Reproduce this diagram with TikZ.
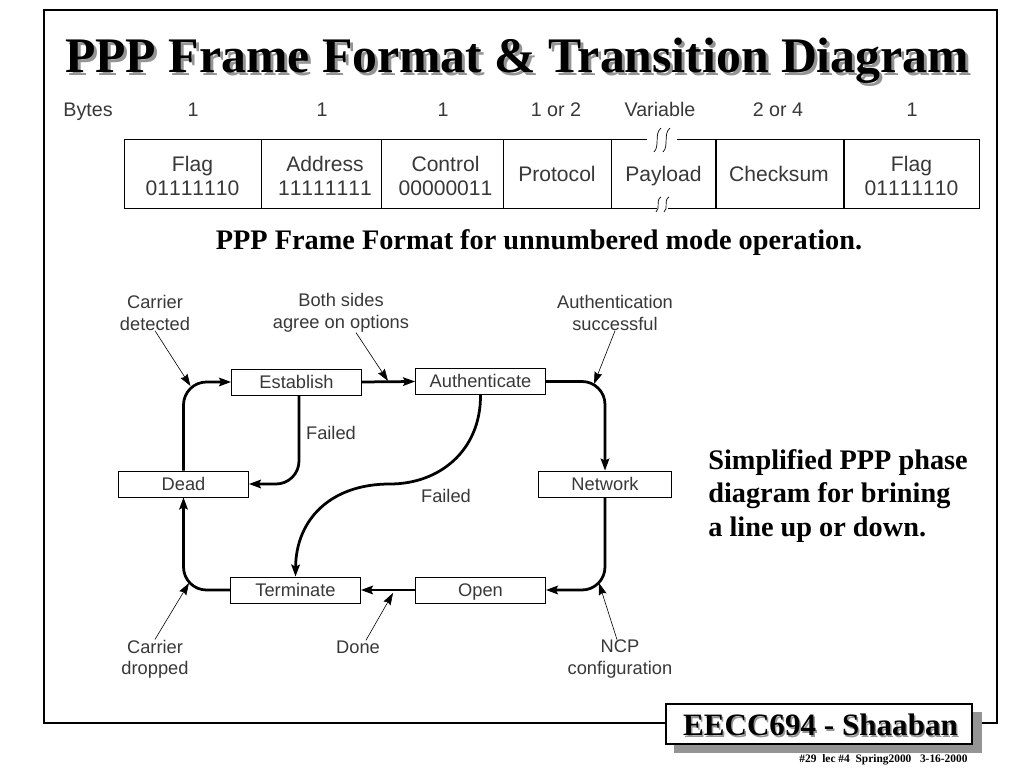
\documentclass[tikz,border=0pt]{standalone}
\usepackage{fontspec}
\setmainfont{Liberation Sans}
\newfontfamily\timesbold[BoldFont=Liberation Serif Bold]{Liberation Serif}
\newcommand{\fieldlines}[2]{\rule{0pt}{11.4pt}#1\\{\addfontfeature{Kerning=Off}#2}}
\usetikzlibrary{calc,arrows.meta,positioning}
\definecolor{inkgray}{gray}{0.22}
\definecolor{shadowgray}{gray}{0.58}
\begin{document}
\begin{tikzpicture} [x=0.2mm,y=-0.2mm,{field/.style={rectangle,draw=black,thin,minimum height=13.8mm,inner sep=0pt,align=center,text=inkgray,font=\fontsize{12}{13.6}\selectfont}},{bytecount/.style={text=inkgray,inner sep=0pt,text height=8pt,text depth=2.4pt,font=\fontsize{11.2}{13}\selectfont}},{phase/.style={rectangle,draw=black,thin,minimum width=26mm,minimum height=5.2mm,inner sep=0pt,text height=9.2pt,text depth=2.2pt,text=inkgray,font=\fontsize{10.4}{12}\selectfont}},{remark/.style={align=center,inner sep=0pt,text=inkgray,font=\fontsize{10.4}{12.2}\selectfont}},{heavyline/.style={line width=0.55mm,line join=round,rounded corners=4.6mm}},{heavytip/.style={-{Stealth[length=2.4mm,width=1.7mm,inset=0.4mm]}}},{hint/.style={color=black,line width=0.12mm,-{Stealth[length=2.4mm,width=1.6mm,inset=0.3mm]}}},{serifbold/.style={inner sep=0pt,font=\timesbold\bfseries\fontsize{16.1}{19.3}\selectfont,align=left}}]
		\useasboundingbox (0,0) rectangle (1024,768);
		%%outer border
		\draw [black,line width=0.55mm] (44,10) rectangle (997,723);
		%%title with its shadow
		\node at (520,64) [inner sep=0pt,text=shadowgray,font=\timesbold\bfseries\fontsize{28.3}{32}\selectfont] (titleshadow) {PPP Frame Format \& Transition Diagram};
		\node at (517,61) [inner sep=0pt,font=\timesbold\bfseries\fontsize{28.3}{32}\selectfont] (title) {PPP Frame Format \& Transition Diagram};
		%%byte counts
		\node at (88,112) [bytecount] (bytes) {Bytes};
		\node at (193,112) [bytecount] (count1) {1};
		\node at (322,112) [bytecount] (count2) {1};
		\node at (443,112) [bytecount] (count3) {1};
		\node at (556,112) [bytecount] (count4) {1 or 2};
		\node at (660,112) [bytecount] (count5) {Variable};
		\node at (778,112) [bytecount] (count6) {2 or 4};
		\node at (912,112) [bytecount] (count7) {1};
		%%frame fields
		\node at (192.5,173.5) [field,minimum width=27.4mm] (flaga) {\fieldlines{Flag}{01111110}};
		\node at (321,173.5) [field,minimum width=24mm] (address) {\hspace*{4.5pt}\fieldlines{Address}{\hspace*{4.5pt}11111111}};
		\node at (442,173.5) [field,minimum width=24.4mm] (control) {\hspace*{4pt}\fieldlines{Control}{\hspace*{4pt}00000011}};
		\node at (557,173.5) [field,minimum width=21.6mm,text height=12pt,text depth=2.6pt] (protocol) {Protocol};
		\node at (663.5,173.5) [field,minimum width=21mm,text height=12pt,text depth=2.6pt] (payload) {Payload};
		\node at (779,173.5) [field,minimum width=25.6mm,text height=12pt,text depth=2.6pt] (checksum) {Checksum};
		\node at (911.5,173.5) [field,minimum width=27mm] (flagb) {\fieldlines{Flag}{01111110}};
		%%breaks in the payload
		\draw [white,line width=0.5mm] (647,139) -- (677,139);
		\draw [white,line width=0.5mm] (657,208) -- (668,208);
		\draw [black,line width=0.3mm] (638,139.5) -- (647,139.5);
		\draw [black,line width=0.3mm] (677,139.5) -- (685,139.5);
		\draw [black,thin] (654,152) .. controls (660,146) and (654,134) .. (661,128);
		\draw [black,thin] (663,152) .. controls (669,146) and (663,134) .. (670,128);
		\draw [black,thin] (656,212) .. controls (661,208) and (655,201) .. (661,197);
		\draw [black,thin] (664,212) .. controls (669,208) and (663,201) .. (669,197);
		\node at (539,243) [serifbold] (framecaption) {PPP Frame Format for unnumbered mode operation.};
		%%phases
		\node at (296.5,382) [phase] (establish) {Establish};
		\node at (480.5,381.5) [phase] (authenticate) {Authenticate};
		\node at (183.5,484) [phase] (dead) {Dead};
		\node at (605,484) [phase,minimum width=26.6mm] (network) {Network};
		\node at (295.5,590) [phase] (terminate) {Terminate};
		\node at (480.5,590) [phase] (open) {Open};
		%%transitions
		\draw [heavyline,heavytip] (dead.north) |- (establish.west);
		\draw [heavyline,heavytip] ([xshift=0.5mm]establish.south) |- (dead.east);
		\draw [heavyline,heavytip] (establish.east) -- (authenticate.west);
		\draw [heavyline,heavytip] (authenticate.east) -| (network.north);
		\draw [heavyline,heavytip] (network.south) |- (open.east);
		\draw [heavyline,heavytip] (open.west) -- (terminate.east);
		\draw [heavyline,heavytip] (terminate.west) -| (dead.south);
		\draw [line width=0.55mm,heavytip] (authenticate.south) .. controls (481,450) and (440,484) .. (390,484) .. controls (330,484) and (296,520) .. (terminate.north);
		\node at (331,433) [remark] (faileda) {Failed};
		\node at (446,496) [remark] (failedb) {Failed};
		%%hints
		\node at (155,313) [remark] (carrierdetected) {Carrier\\detected};
		\node at (341,313) [remark] (bothsides) {Both sides\\agree on options};
		\node at (615,313) [remark] (authsuccess) {Authentication\\successful};
		\node at (155,659) [remark] (carrierdropped) {Carrier\\dropped};
		\node at (358,647) [remark] (done) {Done};
		\node at (620,659) [remark] (ncpconfig) {NCP\\configuration};
		\coordinate (tipa) at (190.5,386);
		\coordinate (tipb) at (388,381);
		\coordinate (tipc) at (594,384);
		\coordinate (tipd) at (189,583);
		\coordinate (tipe) at (393,593);
		\coordinate (tipf) at (599,583);
		\draw [hint] (carrierdetected.south) -- (tipa);
		\draw [hint] ([xshift=3mm]bothsides.south) -- (tipb);
		\draw [hint] (authsuccess.south) -- (tipc);
		\draw [hint] (carrierdropped.north) -- (tipd);
		\draw [hint] ([xshift=1.6mm]done.north) -- (tipe);
		\draw [hint] ([xshift=-0.6mm]ncpconfig.north) -- (tipf);
		%%side text
		\node at (708,496) [serifbold,anchor=west] (sidetext) {Simplified PPP phase\\diagram for brining\\a line up or down.};
		%%footer
		\fill [shadowgray] (674,712) rectangle (982,753);
		\node at (819,724) [rectangle,draw=black,fill=white,line width=0.3mm,minimum width=61.2mm,minimum height=8mm,inner sep=0pt] (footerbox) {};
		\node at (822,727) [inner sep=0pt,text=shadowgray,font=\timesbold\bfseries\fontsize{17.7}{20}\selectfont] (footershadow) {EECC694 - Shaaban};
		\node at (820.5,725) [inner sep=0pt,font=\timesbold\bfseries\fontsize{17.7}{20}\selectfont] (footertext) {EECC694 - Shaaban};
		\node at (883.5,760) [inner sep=0pt,font=\timesbold\bfseries\fontsize{6.5}{8}\selectfont] (slideinfo) {\#29\ \ lec \#4\ \ Spring2000\ \ \ 3-16-2000};
	\end{tikzpicture}
\end{document}
